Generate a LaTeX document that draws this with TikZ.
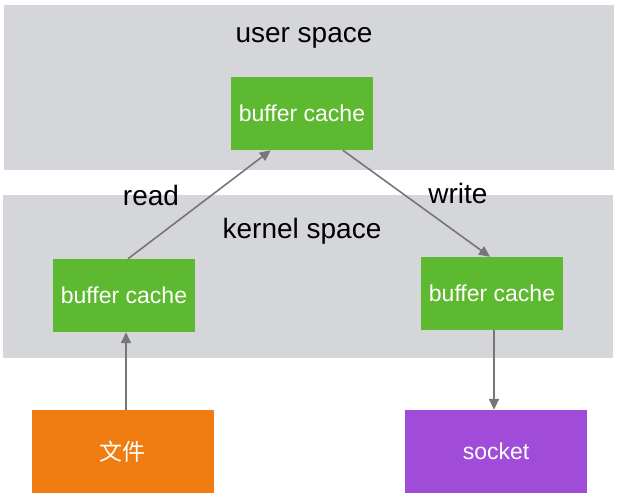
\documentclass[tikz,border=0pt]{standalone}
\usepackage{fontspec}
\setmainfont{Liberation Sans}
\newfontfamily\cjk{Noto Sans CJK SC}
\usetikzlibrary{arrows.meta}
\definecolor{bandgray}{HTML}{D5D6DA}
\definecolor{cachegreen}{HTML}{5DB92F}
\definecolor{fileorange}{HTML}{EF7D11}
\definecolor{sockpurple}{HTML}{A04CD9}
\definecolor{arrowgray}{HTML}{76767A}
\begin{document}
\begin{tikzpicture}[x=1pt,y=-1pt,band/.style={rectangle, fill=bandgray, inner sep=0pt, minimum width=610pt},cache/.style={rectangle, fill=cachegreen, text=white, inner sep=0pt, minimum width=142pt, minimum height=73pt, font=\fontsize{23}{26}\selectfont},src/.style={rectangle, text=white, inner sep=0pt, minimum width=182pt, minimum height=83pt, font=\fontsize{23}{27}\selectfont},lbl/.style={font=\fontsize{28}{32}\selectfont, inner sep=0pt},flow/.style={draw=arrowgray, line width=1.6pt, -{Triangle[width=10pt,length=11pt]}}]
            \useasboundingbox (0,0) rectangle (617,499);
            \node[band, minimum height=165pt] (user) at (308.5,87.5) {};
            \node[band, minimum height=163pt] (kernel) at (308,276.5) {};
            \node[lbl] (userlbl) at (304,38) {user space};
            \node[lbl] (kernellbl) at (302,231) {kernel space};
            \node[cache] (bt) at (302,113.5) {buffer cache};
            \node[cache] (bl) at (124,295.5) {buffer cache};
            \node[cache] (br) at (492,293.5) {buffer cache};
            \node[src, fill=fileorange] (file) at (122.5,451.5) {\cjk 文件};
            \node[src, fill=sockpurple] (sock) at (496,451.5) {socket};
            \node[lbl] (readlbl) at (151,195) {read};
            \node[lbl] (writelbl) at (458,193) {write};
            \draw[flow] ([xshift=4pt]bl.north) -- ([xshift=40pt]bt.south west);
            \draw[flow] ([xshift=112pt]bt.south west) -- ([xshift=-2pt]br.north);
            \draw[flow] ([xshift=3.5pt]file.north) -- ([xshift=2pt]bl.south);
            \draw[flow] ([xshift=2pt]br.south) -- ([xshift=-2pt]sock.north);
        \end{tikzpicture}
\end{document}
